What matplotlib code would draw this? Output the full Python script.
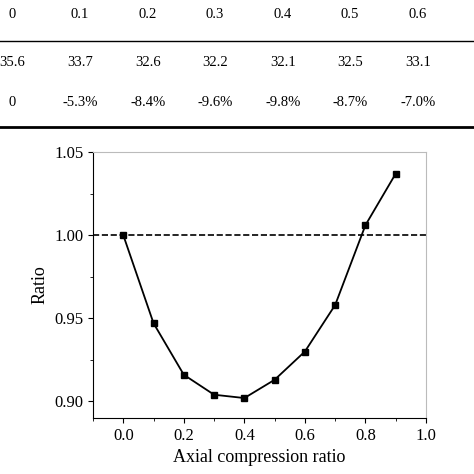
import matplotlib
matplotlib.use("Agg")
import matplotlib.pyplot as plt

plt.rcParams['font.family'] = ['Liberation Serif']

x = [0.0, 0.1, 0.2, 0.3, 0.4, 0.5, 0.6, 0.7, 0.8, 0.9]
ratio = [1.000, 0.947, 0.916, 0.904, 0.902, 0.913, 0.930, 0.958, 1.006, 1.037]
table_head = ["0", "0.1", "0.2", "0.3", "0.4", "0.5", "0.6"]
table_val = ["35.6", "33.7", "32.6", "32.2", "32.1", "32.5", "33.1"]
table_pct = ["0", "-5.3%", "-8.4%", "-9.6%", "-9.8%", "-8.7%", "-7.0%"]

fig = plt.figure(figsize=(4.74, 4.74), dpi=100)
W = H = 474.0
colx = [12, 80, 148, 215, 283, 350, 418]
for row, yp in ((table_head, 14), (table_val, 62), (table_pct, 103)):
    for t, cx in zip(row, colx):
        fig.text(cx / W, 1 - yp / H, t, ha='center', va='center', fontsize=10.5)
fig.add_artist(plt.Line2D([0, 1], [1 - 41 / H] * 2, color='black', lw=1))
fig.add_artist(plt.Line2D([0, 1], [1 - 127 / H] * 2, color='black', lw=2))

ax = fig.add_axes([93 / W, 1 - 418 / H, 333 / W, 266 / H])
ax.plot(x, ratio, '-s', color='black', ms=5, lw=1.3)
ax.axhline(1.0, color='black', ls='--', lw=1.2)
ax.set_xlim(-0.1, 1.0)
ax.set_ylim(0.89, 1.05)
ax.set_xticks([0.0, 0.2, 0.4, 0.6, 0.8, 1.0])
ax.set_xticks([-0.1, 0.1, 0.3, 0.5, 0.7, 0.9], minor=True)
ax.set_yticks([0.90, 0.95, 1.00, 1.05])
ax.set_yticks([0.925, 0.975, 1.025], minor=True)
ax.set_xticklabels(["0.0", "0.2", "0.4", "0.6", "0.8", "1.0"])
ax.set_yticklabels(["0.90", "0.95", "1.00", "1.05"])
ax.tick_params(labelsize=12, direction='out')
ax.spines['top'].set_color('#bbbbbb')
ax.spines['right'].set_color('#bbbbbb')
ax.set_xlabel("Axial compression ratio", fontsize=13)
ax.set_ylabel("Ratio", fontsize=13)
fig.savefig("out.png", dpi=100)
